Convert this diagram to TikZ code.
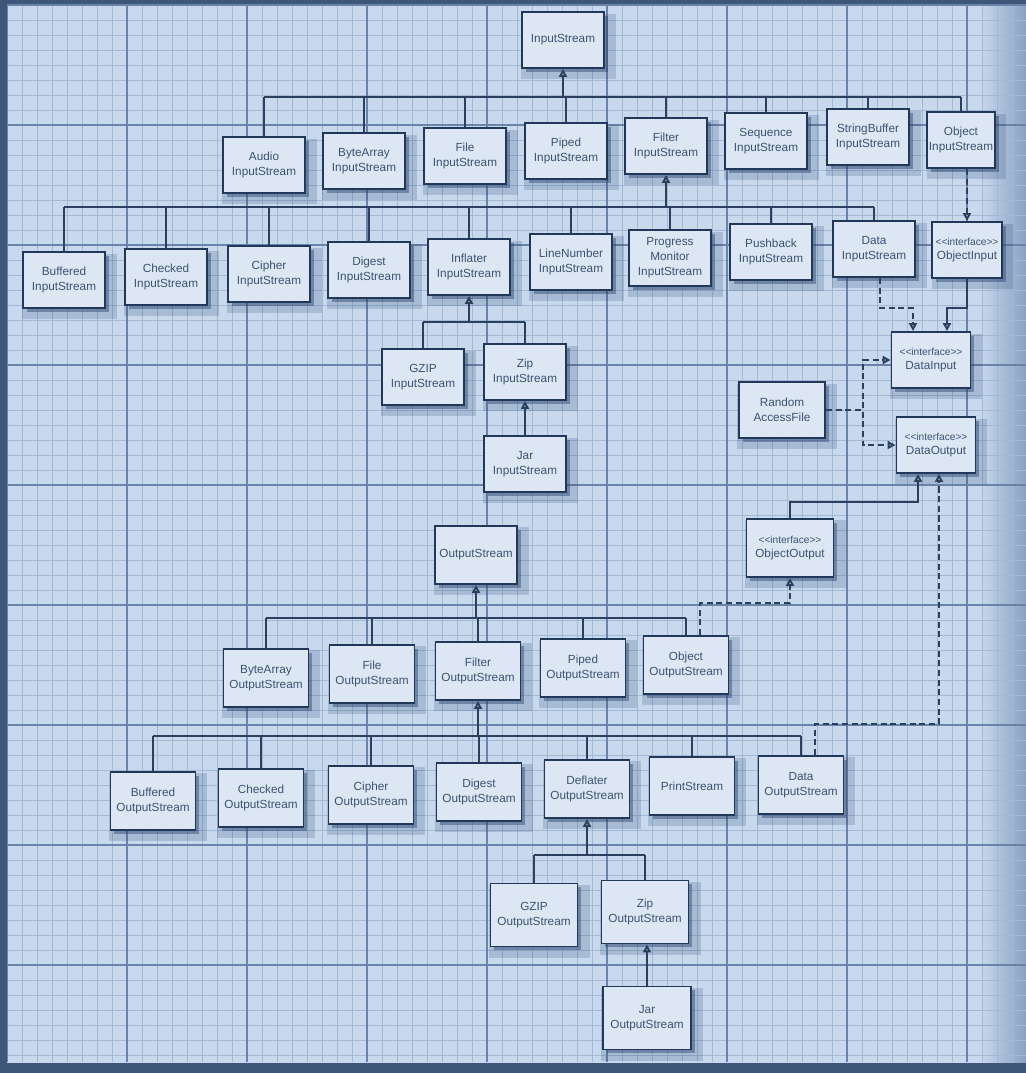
\documentclass[tikz,border=0pt]{standalone}
\usepackage{fontspec}
\setmainfont{Liberation Sans}
\usetikzlibrary{arrows.meta,shadows}

\definecolor{paper}{HTML}{C8D9EE}
\definecolor{paperdark}{HTML}{8AA1C2}
\definecolor{edge}{HTML}{3E5678}
\definecolor{minorgrid}{HTML}{A3B8D3}
\definecolor{majorgrid}{HTML}{6A83A8}
\definecolor{boxfill}{HTML}{DCE7F3}
\definecolor{boxdraw}{HTML}{22385A}
\definecolor{txt}{HTML}{3C5274}
\definecolor{conn}{HTML}{2B405F}
\definecolor{shadowc}{HTML}{2A4470}

\newcommand{\iface}{{\fontsize{5.8}{8.5}\selectfont <{}<interface>{}>}}

\tikzset{
  cls/.style={draw=boxdraw, line width=1.1pt, fill=boxfill, text=txt, align=center,
    minimum width=1.64cm, minimum height=1.12cm, inner sep=1pt,
    font=\fontsize{6.7}{8.5}\selectfont,
    general shadow={fill=shadowc, opacity=.2, shadow scale=1.16, shadow xshift=2.5pt, shadow yshift=-3pt},
    general shadow={fill=shadowc, opacity=.45, shadow xshift=2pt, shadow yshift=-2pt}},
  ocls/.style={cls, minimum width=1.7cm, minimum height=1.16cm},
  link/.style={draw=conn, line width=1.1pt},
  inherit/.style={link, -{Triangle[open, fill=boxfill, length=4.5pt, width=4.5pt]}},
  realize/.style={inherit, dash pattern=on 3.5pt off 2pt},
  minorline/.style={draw=minorgrid, line width=0.5pt},
  majorline/.style={draw=majorgrid, line width=0.7pt}
}

\begin{document}
\begin{tikzpicture}[x=0.02cm, y=-0.02cm]
  \useasboundingbox (0,0) rectangle (1026,1073);

  % paper
  \fill[paper] (0,0) rectangle (1026,1073);
  \shade[left color=paper, right color=paperdark] (980,0) rectangle (1026,1073);
  \foreach \gx in {7,22,...,1017} \draw[minorline] (\gx,5) -- (\gx,1062);
  \foreach \gy in {5,20,...,1060} \draw[minorline] (7,\gy) -- (1026,\gy);
  \foreach \gx in {7,127,...,967} \draw[majorline] (\gx,5) -- (\gx,1062);
  \foreach \gy in {5,125,...,965} \draw[majorline] (7,\gy) -- (1026,\gy);
  \fill[edge] (0,0) rectangle (7,1073);
  \fill[edge] (0,0) rectangle (1026,4);
  \fill[edge] (0,1063) rectangle (1026,1073);

  % bus levels
  \coordinate (busIn) at (0,97);
  \coordinate (busFilt) at (0,207);
  \coordinate (busInfl) at (0,322);
  \coordinate (busOut) at (0,618);
  \coordinate (busFos) at (0,736);
  \coordinate (busDefl) at (0,855);

  % input side
  \node[cls] (inp) at (563,40) {InputStream};

  \node[cls] (aud) at (264,165) {Audio\\InputStream};
  \node[cls] (bai) at (364,161) {ByteArray\\InputStream};
  \node[cls] (fis) at (465,156) {File\\InputStream};
  \node[cls] (pis) at (566,151) {Piped\\InputStream};
  \node[cls] (fltis) at (666,146) {Filter\\InputStream};
  \node[cls] (seq) at (766,141) {Sequence\\InputStream};
  \node[cls] (sbf) at (868,137) {StringBuffer\\InputStream};
  \node[cls, minimum width=1.36cm] (ois) at (961,140) {Object\\InputStream};

  \node[cls] (bis) at (64,280) {Buffered\\InputStream};
  \node[cls] (chis) at (166,277) {Checked\\InputStream};
  \node[cls] (cis) at (269,274) {Cipher\\InputStream};
  \node[cls] (dgis) at (369,270) {Digest\\InputStream};
  \node[cls] (infis) at (469,267) {Inflater\\InputStream};
  \node[cls] (lnis) at (571,262) {LineNumber\\InputStream};
  \node[cls] (pmis) at (670,258) {Progress\\Monitor\\InputStream};
  \node[cls] (pbis) at (771,252) {Pushback\\InputStream};
  \node[cls] (dis) at (874,249) {Data\\InputStream};
  \node[cls, minimum width=1.4cm] (oin) at (967,250) {\iface\\ObjectInput};

  \node[cls] (gzis) at (423,377) {GZIP\\InputStream};
  \node[cls] (zis) at (525,372) {Zip\\InputStream};
  \node[cls] (jis) at (525,464) {Jar\\InputStream};

  % interfaces
  \node[cls, minimum width=1.58cm] (din) at (931,360) {\iface\\DataInput};
  \node[cls, minimum width=1.72cm] (raf) at (782,410) {Random\\AccessFile};
  \node[cls, minimum width=1.58cm] (dout) at (936,445) {\iface\\DataOutput};
  \node[cls, minimum width=1.74cm, minimum height=1.16cm] (oout) at (790,548) {\iface\\ObjectOutput};

  % output side
  \node[ocls, minimum width=1.64cm] (os) at (476,555) {OutputStream};

  \node[ocls] (bos) at (266,678) {ByteArray\\OutputStream};
  \node[ocls] (fos) at (372,674) {File\\OutputStream};
  \node[ocls] (fltos) at (478,671) {Filter\\OutputStream};
  \node[ocls] (pos) at (583,668) {Piped\\OutputStream};
  \node[ocls] (oos) at (686,665) {Object\\OutputStream};

  \node[ocls] (bfos) at (153,801) {Buffered\\OutputStream};
  \node[ocls] (chos) at (261,798) {Checked\\OutputStream};
  \node[ocls] (cos) at (371,795) {Cipher\\OutputStream};
  \node[ocls] (dgos) at (479,792) {Digest\\OutputStream};
  \node[ocls] (dfos) at (587,789) {Deflater\\OutputStream};
  \node[ocls] (ps) at (692,786) {PrintStream};
  \node[ocls] (dos) at (801,785) {Data\\OutputStream};

  \node[ocls, minimum width=1.74cm, minimum height=1.26cm] (gzos) at (534,915) {GZIP\\OutputStream};
  \node[ocls, minimum width=1.74cm, minimum height=1.26cm] (zos) at (645,912) {Zip\\OutputStream};
  \node[ocls, minimum width=1.76cm, minimum height=1.26cm] (jos) at (647,1018) {Jar\\OutputStream};

  % inheritance trees
  \foreach \c in {aud,bai,fis,pis,fltis,seq,sbf,ois} \draw[link] (\c.north) -- (\c.north |- busIn);
  \draw[link] (aud.north |- busIn) -- (ois.north |- busIn);
  \draw[inherit] (inp.south |- busIn) -- (inp.south);

  \foreach \c in {bis,chis,cis,dgis,infis,lnis,pmis,pbis,dis} \draw[link] (\c.north) -- (\c.north |- busFilt);
  \draw[link] (bis.north |- busFilt) -- (dis.north |- busFilt);
  \draw[inherit] (fltis.south |- busFilt) -- (fltis.south);

  \foreach \c in {gzis,zis} \draw[link] (\c.north) -- (\c.north |- busInfl);
  \draw[link] (gzis.north |- busInfl) -- (zis.north |- busInfl);
  \draw[inherit] (infis.south |- busInfl) -- (infis.south);
  \draw[inherit] (jis.north) -- (zis.south);

  \foreach \c in {bos,fos,fltos,pos,oos} \draw[link] (\c.north) -- (\c.north |- busOut);
  \draw[link] (bos.north |- busOut) -- (oos.north |- busOut);
  \draw[inherit] (os.south |- busOut) -- (os.south);

  \foreach \c in {bfos,chos,cos,dgos,dfos,ps,dos} \draw[link] (\c.north) -- (\c.north |- busFos);
  \draw[link] (bfos.north |- busFos) -- (dos.north |- busFos);
  \draw[inherit] (fltos.south |- busFos) -- (fltos.south);

  \foreach \c in {gzos,zos} \draw[link] (\c.north) -- (\c.north |- busDefl);
  \draw[link] (gzos.north |- busDefl) -- (zos.north |- busDefl);
  \draw[inherit] (dfos.south |- busDefl) -- (dfos.south);
  \draw[inherit] (jos.north) -- (jos.north |- zos.south);

  % interface links
  \draw[realize] (oin.north |- ois.south) -- (oin.north);
  \draw[realize] ([xshift=0.12cm]dis.south) -- ++(0,30) -| ([xshift=-0.36cm]din.north);
  \draw[inherit] (oin.south) -- ++(0,29) -| ([xshift=0.32cm]din.north);
  \draw[realize] (raf.east) -- ++(37,0) |- (din.west);
  \draw[realize] (raf.east) -- ++(37,0) |- (dout.west);
  \draw[inherit] (oout.north) -- ++(0,-16) -| ([xshift=-0.36cm]dout.south);
  \draw[realize] ([xshift=0.28cm]dos.north) -- ++(0,-31) -| ([xshift=0.06cm]dout.south);
  \draw[realize] ([xshift=0.28cm]oos.north) -- ++(0,-32) -| (oout.south);
\end{tikzpicture}
\end{document}
